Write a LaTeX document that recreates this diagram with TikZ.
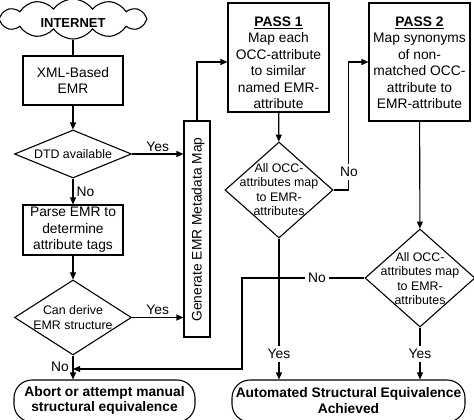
\documentclass[tikz,border=0pt]{standalone}
\usepackage{fontspec}
\setmainfont{Liberation Sans}
\usetikzlibrary{shapes.geometric,shapes.symbols,arrows.meta,calc}
\newcommand{\myboxfont}{\fontsize{13.8}{16.5}\selectfont}
\newcommand{\mydiafont}{\fontsize{12.4}{14.6}\selectfont}
\newcommand{\mytermfont}{\bfseries\fontsize{13.8}{15.5}\selectfont}
\begin{document}
\begin{tikzpicture}[x=1pt,y=-1pt,
  line width=1.1pt,
  arr/.style={-{Triangle[length=7pt,width=6pt]}},
  box/.style={draw, rectangle, inner sep=0pt, align=center, font=\myboxfont},
  dia/.style={draw, diamond, inner sep=0pt},
  diatext/.style={align=center, font=\mydiafont, inner sep=0pt},
  term/.style={draw, rectangle, rounded corners=18pt, inner sep=0pt, align=center, font=\mytermfont},
  lbl/.style={font=\myboxfont, inner sep=1pt},
  wlbl/.style={font=\myboxfont, fill=white, inner sep=3pt},
]
\useasboundingbox (0,0) rectangle (474,420);
\fill[white] (0,0) rectangle (474,420);
\clip (0,0) rectangle (474,420);

% nodes
\node[cloud, draw, cloud puffs=12, cloud puff arc=110, minimum width=148pt, minimum height=40pt, inner sep=0pt] (net) at (73,19) {};
\node[font=\bfseries\fontsize{13}{15}\selectfont, inner sep=0pt] (nett) at (73,23) {INTERNET};

\node[box, minimum width=100pt, minimum height=49pt] (xml) at (73,80.5) {XML-Based\\EMR};
\node[dia, minimum width=117pt, minimum height=48pt] (dtd) at (73,154) {};
\node[diatext] (dtdt) at (73,154) {DTD available};
\node[box, minimum width=100pt, minimum height=50pt] (parse) at (73,230) {Parse EMR to\\determine\\attribute tags};
\node[dia, minimum width=117pt, minimum height=75pt] (can) at (73,317.5) {};
\node[diatext] (cant) at (73,317.5) {Can derive\\EMR structure};

\node[draw, rectangle, minimum width=26pt, minimum height=216pt, inner sep=0pt] (gen) at (197,229) {};
\node[font=\myboxfont, rotate=90, inner sep=0pt] (gent) at (198,229.5) {Generate EMR Metadata Map};

\node[draw, rectangle, minimum width=101pt, minimum height=109pt, inner sep=0pt] (p1) at (278.5,57.5) {};
\node[box, draw=none, anchor=north] (p1t) at (278.5,16) {\textbf{\underline{PASS 1}}\\Map each\\OCC-attribute\\to similar\\named EMR-\\attribute};
\node[dia, minimum width=108pt, minimum height=96pt] (pd1) at (279,190) {};
\node[diatext] (pd1t) at (279,189.5) {All OCC-\\attributes map\\to EMR-\\attributes};

\node[draw, rectangle, minimum width=101pt, minimum height=118pt, inner sep=0pt] (p2) at (419.5,62) {};
\node[box, draw=none, anchor=north] (p2t) at (419.5,16) {\textbf{\underline{PASS 2}}\\Map synonyms\\of non-\\matched OCC-\\attribute to\\EMR-attribute};
\node[dia, minimum width=110pt, minimum height=98pt] (pd2) at (420,278) {};
\node[diatext] (pd2t) at (420,278.5) {All OCC-\\attributes map\\to EMR-\\attributes};

\node[term, minimum width=181pt, minimum height=42pt] (abort) at (104.5,401) {};
\node[font=\mytermfont, align=center, inner sep=0pt] (abortt) at (104.5,400.5) {Abort or attempt manual\\structural equivalence};
\node[term, minimum width=233pt, minimum height=42pt] (auto) at (348.5,401) {};
\node[font=\mytermfont, align=center, inner sep=0pt] (autot) at (348.5,400.5) {Automated Structural Equivalence\\Achieved};

\coordinate (m1) at ($(p2.west)+(-20,0)$);
\coordinate (c2) at (242,369);
\coordinate (c3) at (can.south |- c2);

% connectors
\draw (net.south) -- (xml.north);
\draw[arr] (xml) -- (dtd);
\draw[arr] (dtd.east) -- (dtd.east -| gen.west) node[lbl, midway, above=1pt] {Yes};
\draw[arr] (dtd) -- (parse) node[lbl, midway, right=2pt] {No};
\draw[arr] (parse) -- (can);
\draw[arr] (can.east) -- (can.east -| gen.west) node[lbl, midway, above=1pt] {Yes};
\draw[arr] (can.south) -- (can.south |- abort.north);
\node[lbl] (no0) at (60,367) {No};
\draw[arr] (gen.north) |- ([yshift=-4.5pt]p1.west);
\draw[arr] (p1) -- (pd1);
\draw[arr] (pd1.east) -| (m1) -- (p2.west);
\draw[arr] (p2) -- (pd2);
\draw[arr] (pd1.south) -- (pd1.south |- auto.north);
\draw[arr] (pd2.south) -- (pd2.south |- auto.north);
\draw[arr] (pd2.west) -| (c2) -- (c3);

% labels breaking lines
\node[wlbl] (no1) at (349,172) {No};
\node[wlbl] (no2) at (317,278) {No};
\node[wlbl] (yes1) at (279,354) {Yes};
\node[wlbl] (yes2) at (420,354) {Yes};
\end{tikzpicture}
\end{document}
